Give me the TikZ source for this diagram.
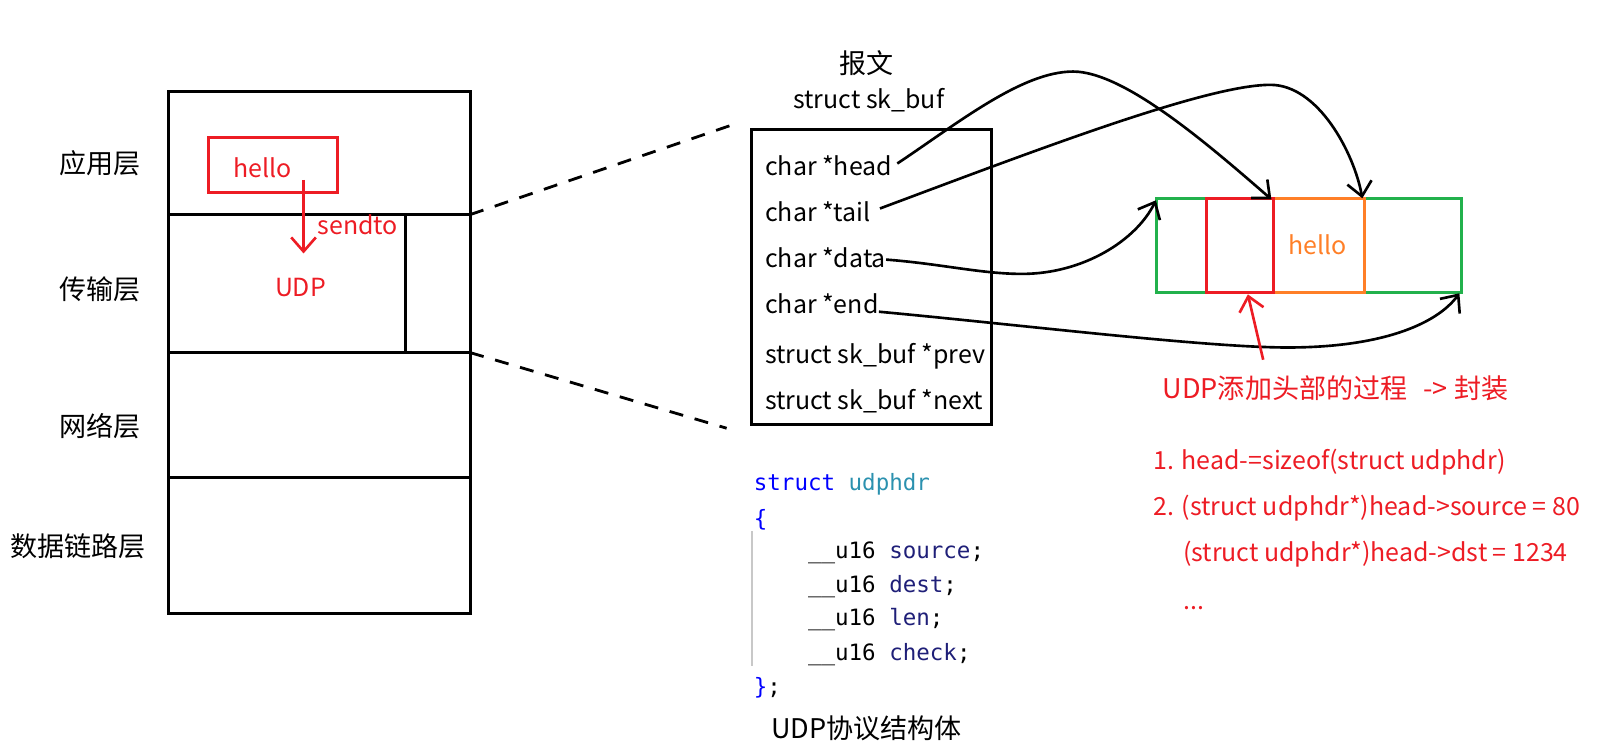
\documentclass[tikz,border=0pt]{standalone}
\usepackage{fontspec}
\setmainfont{Noto Sans CJK SC}
\newfontfamily\codefont{DejaVu Sans Mono}
\usetikzlibrary{arrows.meta}
\definecolor{pred}{RGB}{237,28,36}
\definecolor{pgreen}{RGB}{34,177,76}
\definecolor{porange}{RGB}{255,127,39}
\definecolor{cblue}{RGB}{0,0,255}
\definecolor{cteal}{RGB}{43,145,175}
\definecolor{cnavy}{RGB}{31,31,120}
\definecolor{cgray}{RGB}{200,200,200}
\tikzset{
  txt/.style={inner sep=0pt, font=\fontsize{7.1pt}{8pt}\selectfont, text height=0.75em, text depth=0.2em},
  cjk/.style={inner sep=0pt, font=\fontsize{7.7pt}{8.5pt}\selectfont, text height=0.75em, text depth=0.2em},
  lft/.style={txt, anchor=west},
  code/.style={inner sep=0pt, anchor=west, font=\codefont\fontsize{6.4pt}{7.5pt}\selectfont, text height=0.75em, text depth=0.2em},
  frame/.style={draw=black, line width=0.85pt},
  pbox/.style={line width=0.85pt},
  link/.style={draw=black, line width=0.75pt, -{Straight Barb[length=4pt,width=7pt]}},
  redlink/.style={draw=pred, line width=0.75pt, -{Straight Barb[length=4pt,width=7pt]}},
  dashlink/.style={draw=black, line width=0.8pt, dash pattern=on 4pt off 3.4pt},
}
\begin{document}
\begin{tikzpicture}[x=0.01022cm, y=-0.01022cm]
\useasboundingbox (0,0) rectangle (1568.5,737.8);
% ---------- protocol stack ----------
\draw[frame] (165,90) rectangle (460,600);
\draw[frame] (165,210) -- (460,210);
\draw[frame] (165,345) -- (460,345);
\draw[frame] (165,467) -- (460,467);
\draw[frame] (397,210) -- (397,345);
\coordinate (stA) at (460,210);
\coordinate (stB) at (460,345);
\node[cjk] (l1) at (98,160) {应用层};
\node[cjk] (l2) at (98,284) {传输层};
\node[cjk] (l3) at (98,418) {网络层};
\node[cjk] (l4) at (76,535) {数据链路层};
\draw[pbox, draw=pred] (204,135) rectangle (330,188);
\node[txt, text=pred] (hello1) at (257,164) {hello};
\node[txt, text=pred] (sendto) at (350,220) {sendto};
\node[txt, text=pred] (udp) at (294,281) {UDP};
\coordinate (sA) at (297,176);
\coordinate (sB) at (297,248);
\draw[redlink] (sA) -- (sB);
% ---------- sk_buf ----------
\node[cjk] (bw) at (848,62) {报文};
\node[txt] (skt) at (850,97) {struct sk\_buf};
\draw[frame] (735,127) rectangle (970,415);
\coordinate (skTL) at (717,122);
\coordinate (skBL) at (711,419);
\draw[dashlink] (stA) -- (skTL);
\draw[dashlink] (stB) -- (skBL);
\node[lft] (fhead) at (748,162) {char *head};
\node[lft] (ftail) at (748,207) {char *tail};
\node[lft] (fdata) at (748,252) {char *data};
\node[lft] (fend)  at (748,297) {char *end};
\node[lft] (fprev) at (748,346) {struct sk\_buf *prev};
\node[lft] (fnext) at (748,391) {struct sk\_buf *next};
% ---------- buffer ----------
\draw[pbox, draw=pgreen] (1132,194) rectangle (1430,286);
\draw[pbox, draw=porange] (1246,194) rectangle (1335,286);
\draw[pbox, draw=pred] (1181,194) rectangle (1246,286);
\node[txt, text=porange] (hello2) at (1289,240) {hello};
\coordinate (bufL) at (1131,196);
\coordinate (bufH) at (1244,195);
\coordinate (bufT) at (1333,194);
\coordinate (bufE) at (1428,287);
\coordinate (hEnd) at (878,160);
\coordinate (tEnd) at (861,204);
\coordinate (dEnd) at (867,254);
\coordinate (eEnd) at (860,305);
\draw[link] (hEnd) .. controls (938,120) and (1000,70) .. (1050,70) .. controls (1100,70) and (1183,142) .. (bufH);
\draw[link] (tEnd) .. controls (1011,148) and (1180,83) .. (1243,83) .. controls (1290,83) and (1325,150) .. (bufT);
\draw[link] (dEnd) .. controls (920,258) and (960,268) .. (1000,268) .. controls (1060,268) and (1112,235) .. (bufL);
\draw[link] (eEnd) .. controls (1000,318) and (1180,340) .. (1260,340) .. controls (1350,340) and (1405,318) .. (bufE);
\coordinate (rA) at (1236,352);
\coordinate (rB) at (1221,288);
\draw[redlink] (rA) -- (rB);
% ---------- red notes ----------
\node[cjk, anchor=west, text=pred] (n0) at (1137,380) {UDP添加头部的过程\hspace{0.6em}-> 封装};
\node[lft, text=pred] (n1) at (1128,450) {1. head-=sizeof(struct udphdr)};
\node[lft, text=pred] (n2) at (1128,495) {2. (struct udphdr*)head->source = 80};
\node[lft, text=pred] (n3) at (1157,540) {(struct udphdr*)head->dst = 1234};
\node[lft, text=pred] (n4) at (1157,587) {...};
% ---------- code ----------
\node[code] (c0) at (737,470) {\textcolor{cblue}{struct} \textcolor{cteal}{udphdr}};
\node[code, text=cblue] (c1) at (737,506) {\{};
\node[code] (c2) at (790,537) {\_\_u16 \textcolor{cnavy}{source};};
\node[code] (c3) at (790,570) {\_\_u16 \textcolor{cnavy}{dest};};
\node[code] (c4) at (790,603) {\_\_u16 \textcolor{cnavy}{len};};
\node[code] (c5) at (790,637) {\_\_u16 \textcolor{cnavy}{check};};
\node[code] (c6) at (737,670) {\textcolor{cblue}{\}};};
\coordinate (gA) at (736,520);
\coordinate (gB) at (736,652);
\draw[cgray, line width=0.4pt] (gA) -- (gB);
\node[cjk] (cap) at (848,713) {UDP协议结构体};
\end{tikzpicture}
\end{document}
